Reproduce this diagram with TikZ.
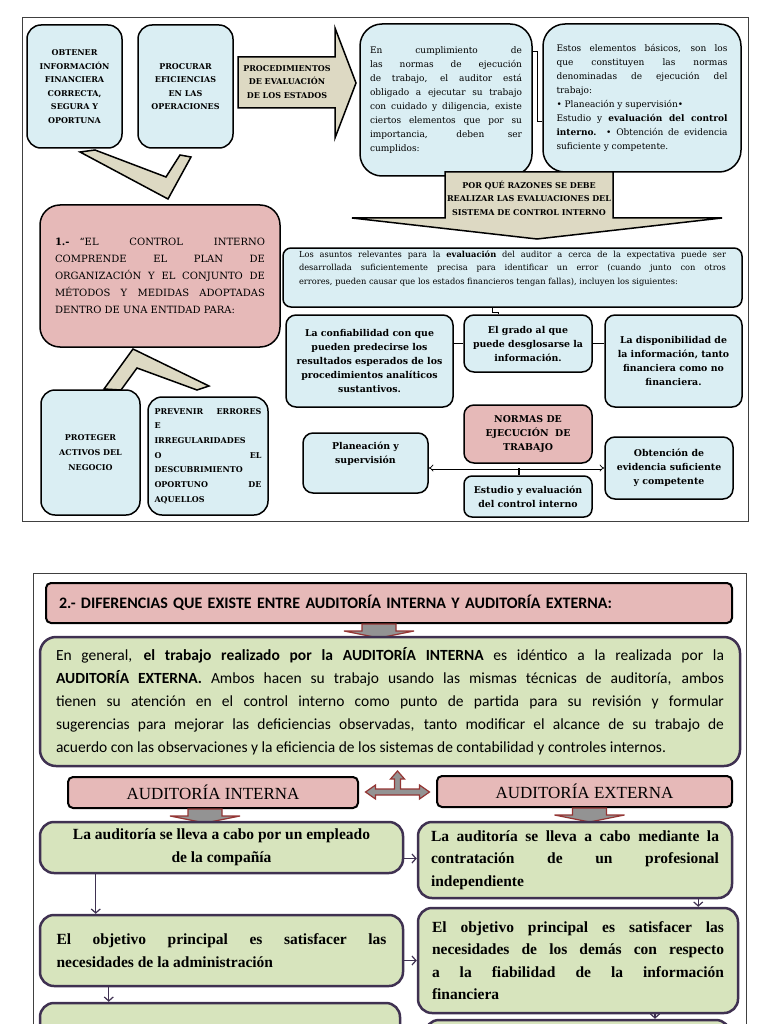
\documentclass[tikz,border=0pt]{standalone}
\usepackage{fontspec}
\setmainfont{DejaVu Serif}
\newfontfamily\timesfont{Liberation Serif}
\newfontfamily\calibrifont{Carlito}
\usetikzlibrary{arrows.meta, positioning, calc}

\definecolor{paleblue}{HTML}{DAEEF3}
\definecolor{rosepink}{HTML}{E6B9B8}
\definecolor{khaki}{HTML}{DDD9C3}
\definecolor{olivegreen}{HTML}{D7E4BD}
\definecolor{plum}{HTML}{3F3151}
\definecolor{darkred}{HTML}{943634}
\definecolor{framegray}{HTML}{404040}

\begin{document}
\begin{tikzpicture}[
  x=1pt, y=-1pt,
  every node/.style={inner sep=0pt},
  % --- box styles ---
  bluebox/.style={
    draw=black, line width=1.5pt, fill=paleblue, rounded corners=14pt,
    align=center,
  },
  pinkbox/.style={
    draw=black, line width=1.5pt, fill=rosepink, rounded corners=14pt,
    align=center,
  },
  greenbox/.style={
    draw=plum, line width=2.5pt, fill=olivegreen, rounded corners=14pt,
    align=center, font=\timesfont\bfseries\fontsize{15.5}{22.5}\selectfont,
  },
  hdrbox/.style={
    draw=black, line width=2pt, fill=rosepink, rounded corners=5pt,
    align=center,
  },
  blockarrow/.style={draw=black, line width=1.5pt, fill=khaki, line join=miter},
  grayarrow/.style={draw=darkred, line width=1.2pt, fill=gray!85, line join=miter},
  frame/.style={draw=framegray, line width=1pt},
  link/.style={draw=black, line width=1pt},
  dbl/.style={draw=black, line width=0.7pt, double, double distance=1.6pt,
    {Implies}-{Implies}},
  conn/.style={draw=plum, line width=1.2pt, -{Straight Barb[length=4pt,width=9pt]}},
  capsb/.style={font=\bfseries\fontsize{8}{13.6}\selectfont},
  bodyfont/.style={font=\fontsize{9}{14}\selectfont},
  boldfont/.style={font=\bfseries\fontsize{9.4}{14}\selectfont},
  % --- small tab arrows ---
  downtab/.pic={
    \draw[grayarrow] (-17,0) -- (17,0) -- (17,7) -- (35,7) -- (0,14)
      -- (-35,7) -- (-17,7) -- cycle;
  },
  forkarrow/.pic={
    \draw[grayarrow] (-32,0) -- (-22,-7) -- (-22,-3) -- (-3,-3) -- (-3,-13)
      -- (-7,-13) -- (0,-21) -- (7,-13) -- (3,-13) -- (3,-3) -- (22,-3)
      -- (22,-7) -- (32,0) -- (22,7) -- (22,3) -- (-22,3) -- (-22,7) -- cycle;
  },
]
\useasboundingbox (0,0) rectangle (768,1024);
\clip (0,0) rectangle (768,1024);

% ================= Panel 1: control interno =================
\draw[frame] (22,18) rectangle (748,521);

% ---------- Row 1: objectives ----------
\node[bluebox, capsb, minimum width=95pt, minimum height=123pt] (obtener)
  at (74.5,86.5) {OBTENER\\INFORMACIÓN\\FINANCIERA\\CORRECTA,\\SEGURA Y\\OPORTUNA};
\node[bluebox, capsb, minimum width=95pt, minimum height=123pt] (procurar)
  at (185.5,86.5) {PROCURAR\\EFICIENCIAS\\EN LAS\\OPERACIONES};

% block arrow to the right
\draw[blockarrow] (238,57) -- (335,57) -- (335,28) -- (356,83) -- (335,138)
  -- (335,108) -- (238,108) -- cycle;
\node[capsb, align=center] (proctxt) at (287,82)
  {PROCEDIMIENTOS\\DE EVALUACIÓN\\DE LOS ESTADOS};

% chevron under the objectives
\draw[blockarrow] (80,152) -- (95,150) -- (166,177) -- (180,155) -- (191,157)
  -- (168,199) -- cycle;

% ---------- Row 1 right: norms text ----------
\node[bluebox, bodyfont, rounded corners=22pt, minimum width=172pt,
  minimum height=152pt, text width=152pt, align=justify] (cumpl) at (446,100)
  {En cumplimiento de\linebreak las normas de ejecución\linebreak
   de trabajo, el auditor está\linebreak obligado a ejecutar su trabajo\linebreak
   con cuidado y diligencia, existe\linebreak ciertos elementos que por su\linebreak
   importancia, deben ser\linebreak cumplidos:};
\node[bluebox, bodyfont, rounded corners=22pt, minimum width=198pt,
  minimum height=148pt, text width=171pt, align=justify] (basicos) at (642,98)
  {Estos elementos básicos, son los\linebreak que constituyen las normas\linebreak
   denominadas de ejecución del\linebreak trabajo:\\
   • Planeación y supervisión•\\
   Estudio y \textbf{evaluación del control}\linebreak
   \textbf{interno.} • Obtención de evidencia\linebreak suficiente y competente.};
\draw[link] (cumpl.east |- 0,52) -- (537,52) -- (537,122) -- (basicos.west |- 0,122);

% ---------- Down arrow: reasons ----------
\draw[blockarrow] (445,172) -- (613,172) -- (613,218) -- (722,218) -- (537,239)
  -- (352,218) -- (445,218) -- cycle;
\node[capsb, align=center] (razones) at (529,198)
  {POR QUÉ RAZONES SE DEBE\\REALIZAR LAS EVALUACIONES DEL\\SISTEMA DE CONTROL INTERNO};

% ---------- Relevant matters ----------
\node[bluebox, rounded corners=8pt, minimum width=459pt, minimum height=59pt]
  (asuntos) at (512.5,277.5) {};
\node[anchor=north, text width=427pt, align=justify,
  font=\fontsize{8.3}{13.5}\selectfont] (asuntostxt) at ([yshift=-3pt]asuntos.north)
  {\parfillskip=0pt Los asuntos relevantes para la \textbf{evaluación} del auditor a cerca de la expectativa puede ser\linebreak
   desarrollada suficientemente precisa para identificar un error (cuando junto con otros\linebreak
   errores, pueden causar que los estados financieros tengan fallas), incluyen los siguientes:};

\node[bluebox, boldfont, rounded corners=10pt, minimum width=167pt, minimum height=92pt]
  (confiab) at (369.5,361) {La confiabilidad con que\\pueden predecirse los\\resultados esperados de los\\procedimientos analíticos\\sustantivos.};
\node[bluebox, boldfont, rounded corners=10pt, minimum width=128pt, minimum height=57pt]
  (grado) at (528,343.5) {El grado al que\\puede desglosarse la\\información.};
\node[bluebox, boldfont, rounded corners=10pt, minimum width=137pt, minimum height=92pt]
  (dispon) at (673.5,361) {La disponibilidad de\\la información, tanto\\financiera como no\\financiera.};

\draw[link] ([xshift=-20pt]asuntos.south) -- ++(0,5) -| ([xshift=-30pt]grado.north);
\draw[link] (confiab.east |- grado.west) -- (grado.west);
\draw[link] (grado.east) -- (grado.east -| dispon.west);

% ---------- Norms of execution ----------
\node[pinkbox, boldfont, rounded corners=10pt, minimum width=128pt, minimum height=58pt]
  (normas) at (528,434) {NORMAS DE\\EJECUCIÓN~ DE\\TRABAJO};
\node[bluebox, boldfont, rounded corners=10pt, minimum width=125pt, minimum height=60pt]
  (plan) at (365.5,463) {Planeación y\\supervisión\\[6pt]};
\node[bluebox, boldfont, rounded corners=10pt, minimum width=128pt, minimum height=62pt]
  (obten) at (669,468) {Obtención de\\evidencia suficiente\\y competente};
\node[bluebox, boldfont, rounded corners=8pt, minimum width=128pt, minimum height=41pt]
  (estudio) at (528,496.5) {Estudio y evaluación\\del control interno};

\coordinate (hub) at (528,468);
\draw[dbl] (hub -| plan.east) -- (hub -| obten.west);
\draw[link, line width=1.5pt] ([xshift=-9pt]estudio.north |- hub) -- ([xshift=-9pt]estudio.north);

% ---------- Left column: definition ----------
\node[pinkbox, rounded corners=20pt, minimum width=240pt, minimum height=142pt,
  text width=210pt, align=justify, font=\fontsize{10}{17}\selectfont] (control) at (160,276)
  {\textbf{1.-}\quad “EL CONTROL INTERNO\linebreak COMPRENDE EL PLAN DE\linebreak
   ORGANIZACIÓN Y EL CONJUNTO DE\linebreak MÉTODOS Y MEDIDAS ADOPTADAS\linebreak
   DENTRO DE UNA ENTIDAD PARA:};

% chevron above the lower objectives
\draw[blockarrow] (104,389) -- (133,349) -- (209,386) -- (197,390) -- (137,368)
  -- (121,390) -- cycle;

\node[bluebox, capsb, minimum width=99pt, minimum height=125pt,
  font=\bfseries\fontsize{8}{15}\selectfont] (proteger) at (90.5,452.5)
  {PROTEGER\\ACTIVOS DEL\\NEGOCIO};
\node[bluebox, minimum width=120pt, minimum height=118pt, text width=107pt,
  align=justify, font=\bfseries\fontsize{8}{14.7}\selectfont] (prevenir) at (208,456)
  {PREVENIR ERRORES\linebreak E\\ IRREGULARIDADES\\ O EL\linebreak
   DESCUBRIMIENTO\\ OPORTUNO DE\linebreak AQUELLOS};

% ================= Panel 2: internal vs external audit =================
\draw[frame] (33,1030) -- (33,573) -- (746,573) -- (746,1030);

\node[hdrbox, minimum width=686pt, minimum height=40pt, text width=660pt, align=left,
  font=\calibrifont\bfseries\fontsize{16}{18}\selectfont] (diftitle) at (389,603)
  {2.- DIFERENCIAS QUE EXISTE ENTRE AUDITORÍA INTERNA Y AUDITORÍA EXTERNA:};
\pic at ([xshift=-10pt]diftitle.south) {downtab};

\node[greenbox, rounded corners=16pt, minimum width=700pt, minimum height=129pt,
  text width=668pt, align=justify, font=\calibrifont\fontsize{15.5}{23}\selectfont]
  (general) at (390,701.5)
  {\parfillskip=0pt En general, \textbf{el trabajo realizado por la AUDITORÍA INTERNA} es idéntico a la realizada por la\linebreak
   \textbf{AUDITORÍA EXTERNA.} Ambos hacen su trabajo usando las mismas técnicas de auditoría, ambos\linebreak
   tienen su atención en el control interno como punto de partida para su revisión y formular\linebreak
   sugerencias para mejorar las deficiencias observadas, tanto modificar el alcance de su trabajo de\linebreak
   acuerdo con las observaciones y la eficiencia de los sistemas de contabilidad y controles internos.};

% ---------- Column headers ----------
\node[hdrbox, minimum width=290pt, minimum height=31pt,
  font=\timesfont\fontsize{17}{19}\selectfont] (interna) at (213,792.5) {AUDITORÍA INTERNA};
\node[hdrbox, minimum width=295pt, minimum height=31pt,
  font=\timesfont\fontsize{17}{19}\selectfont] (externa) at (584.5,791.5) {AUDITORÍA EXTERNA};
\coordinate (fork) at ($(interna.east)!0.5!(externa.west)$);
\pic at (fork) {forkarrow};
\pic at ([xshift=-8pt]interna.south) {downtab};
\pic at ([xshift=5pt]externa.south) {downtab};

% ---------- Comparison rows ----------
\node[greenbox, minimum width=363pt, minimum height=51pt] (empleado) at (221.5,847.5)
  {La auditoría se lleva a cabo por un empleado\\de la compañía};
\node[greenbox, minimum width=314pt, minimum height=76pt, text width=288pt,
  align=justify] (contrat) at (575,860)
  {La auditoría se lleva a cabo mediante la\linebreak contratación de un profesional\linebreak independiente};
\node[greenbox, minimum width=363pt, minimum height=71pt, text width=330pt,
  align=justify] (objadmin) at (221.5,950.5)
  {El objetivo principal es satisfacer las\linebreak necesidades de la administración};
\node[greenbox, minimum width=320pt, minimum height=105pt, text width=292pt,
  align=justify] (objdemas) at (578,960.5)
  {El objetivo principal es satisfacer las\linebreak necesidades de los demás con respecto\linebreak
   a la fiabilidad de la información\linebreak financiera};
\node[greenbox, minimum width=360pt, minimum height=60pt] (ladoint) at (220,1033) {};
\node[greenbox, minimum width=305pt, minimum height=50pt] (ladoext) at (577.5,1045) {};

\draw[conn] ([xshift=57pt]empleado.south west) -- ([xshift=57pt]objadmin.north west);
\draw[conn] ([xshift=70pt]objadmin.south west) -- ([xshift=70pt]ladoint.north west);
\draw[conn] ([yshift=-11pt]empleado.east) -- ([yshift=-11pt]empleado.east -| contrat.west);
\draw[conn] ([yshift=-10pt]objadmin.east) -- ([yshift=-10pt]objadmin.east -| objdemas.west);
\draw[conn] ([xshift=-35pt]contrat.south east) -- ([xshift=-35pt]contrat.south east |- objdemas.north);
\draw[conn] ([xshift=77pt]objdemas.south) -- ([xshift=77pt]objdemas.south |- ladoext.north);

\end{tikzpicture}
\end{document}
